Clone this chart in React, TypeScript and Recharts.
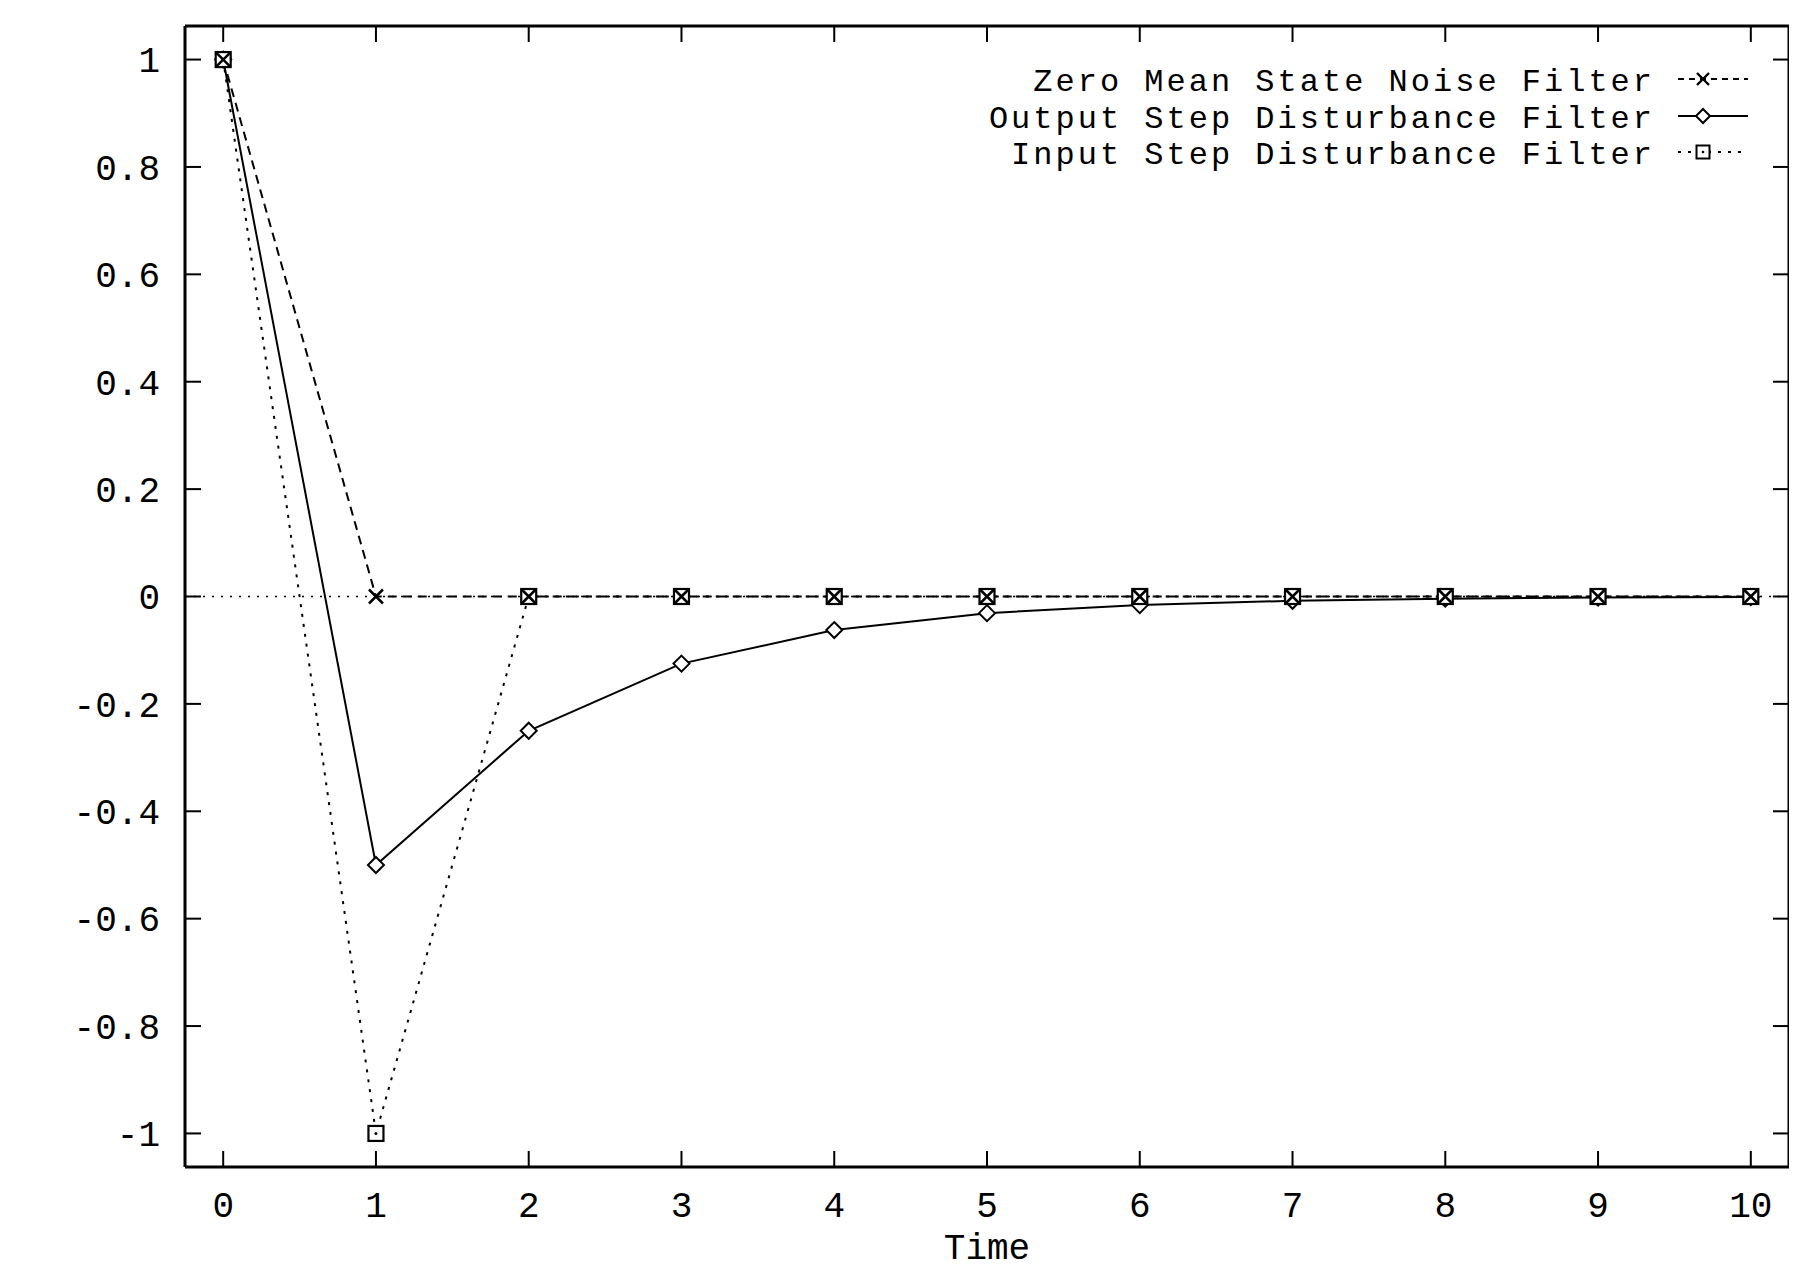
import React from 'react';
import { LineChart, Line, XAxis, YAxis, ReferenceLine, Legend } from 'recharts';

// sample index (x axis)
const time = [0, 1, 2, 3, 4, 5, 6, 7, 8, 9, 10];

// filter responses
const zeroMeanState = [1, 0, 0, 0, 0, 0, 0, 0, 0, 0, 0];
const outputStep = [1, -0.5, -0.25, -0.125, -0.0625, -0.031, -0.016, -0.008, -0.004, -0.002, -0.001];
const inputStep = [1, -1, 0, 0, 0, 0, 0, 0, 0, 0, 0];

const xTicks = [0, 1, 2, 3, 4, 5, 6, 7, 8, 9, 10];
const yTicks = [-1, -0.8, -0.6, -0.4, -0.2, 0, 0.2, 0.4, 0.6, 0.8, 1];

const seriesNames = [
  'Zero Mean State Noise Filter',
  'Output Step Disturbance Filter',
  'Input Step Disturbance Filter',
];

const data = time.map((t, i) => ({
  time: t,
  zero: zeroMeanState[i],
  output: outputStep[i],
  input: inputStep[i],
}));

const FONT = '"Liberation Mono", "DejaVu Sans Mono", monospace';
const INK = '#000';
const W = 1789;
const H = 1273;

const crossPath = (cx: number, cy: number, r = 7) =>
  `M${cx - r},${cy - r}L${cx + r},${cy + r}M${cx - r},${cy + r}L${cx + r},${cy - r}`;

const CrossDot = (props: any) => {
  const { cx, cy, index } = props;
  if (cx == null || cy == null) return <g key={`x-${index}`} />;
  return <path key={`x-${index}`} d={crossPath(cx, cy)} stroke={INK} strokeWidth={2.5} fill="none" />;
};

const DiamondDot = (props: any) => {
  const { cx, cy, index } = props;
  if (cx == null || cy == null) return <g key={`d-${index}`} />;
  const r = 8;
  return (
    <polygon
      key={`d-${index}`}
      points={`${cx},${cy - r} ${cx + r},${cy} ${cx},${cy + r} ${cx - r},${cy}`}
      stroke={INK}
      strokeWidth={2}
      fill="#fff"
    />
  );
};

const SquareDot = (props: any) => {
  const { cx, cy, index } = props;
  if (cx == null || cy == null) return <g key={`s-${index}`} />;
  const r = 7.5;
  return (
    <g key={`s-${index}`}>
      <rect x={cx - r} y={cy - r} width={2 * r} height={2 * r} stroke={INK} strokeWidth={2.2} fill="#fff" />
      <circle cx={cx} cy={cy} r={1.5} fill={INK} />
    </g>
  );
};

const legendSamples = [
  { dash: '6 5', mark: 'cross' },
  { dash: undefined, mark: 'diamond' },
  { dash: '3 7', mark: 'square' },
];

const renderLegend = () => (
  <div style={{ position: 'relative', width: W, height: 170 }}>
    {seriesNames.map((name, i) => {
      const top = 53 + i * 36.5;
      const s = legendSamples[i];
      return (
        <div key={name} style={{ position: 'absolute', top, left: 0, width: W, height: 36 }}>
          <div
            style={{
              position: 'absolute',
              right: W - 1647,
              top: 6,
              height: 32,
              fontFamily: FONT,
              fontSize: 32,
              letterSpacing: 3,
              lineHeight: '32px',
              whiteSpace: 'pre',
              color: INK,
            }}
          >
            {name}
          </div>
          <svg style={{ position: 'absolute', left: 1668, top: 0 }} width={76} height={36}>
            <line x1={2} y1={18} x2={72} y2={18} stroke={INK} strokeWidth={2} strokeDasharray={s.dash} />
            {s.mark === 'cross' && <path d={crossPath(27, 18, 6)} stroke={INK} strokeWidth={2.4} fill="none" />}
            {s.mark === 'diamond' && (
              <polygon points="27,11 34,18 27,25 20,18" stroke={INK} strokeWidth={2} fill="#fff" />
            )}
            {s.mark === 'square' && (
              <g>
                <rect x={20.5} y={11.5} width={13} height={13} stroke={INK} strokeWidth={2} fill="#fff" />
                <circle cx={27} cy={18} r={1.3} fill={INK} />
              </g>
            )}
          </svg>
        </div>
      );
    })}
  </div>
);

const tickStyle = { fontFamily: FONT, fontSize: 36, fill: INK };
const axisLine = { stroke: INK, strokeWidth: 3 };
const tickLine = { stroke: INK, strokeWidth: 2 };
const xDomain: [number, number] = [-0.25, 10.25];
const yDomain: [number, number] = [-1.0625, 1.0625];

const App: React.FC = () => {
  return (
    <div style={{ width: W, height: H, background: '#fff' }}>
      <LineChart
        width={W}
        height={H}
        data={data}
        margin={{ top: 17, right: 7, left: 0, bottom: 0 }}
      >
        <XAxis
          dataKey="time"
          type="number"
          domain={xDomain}
          ticks={xTicks}
          allowDataOverflow
          height={114}
          tickSize={-16}
          tickMargin={40}
          axisLine={axisLine}
          tickLine={tickLine}
          tick={tickStyle}
          label={{ value: 'Time', position: 'insideBottom', offset: 22, style: { fontFamily: FONT, fontSize: 36, fill: INK } }}
        />
        <XAxis
          xAxisId="top"
          orientation="top"
          dataKey="time"
          type="number"
          domain={xDomain}
          ticks={xTicks}
          allowDataOverflow
          height={1}
          tickSize={-16}
          tickFormatter={() => ''}
          axisLine={axisLine}
          tickLine={tickLine}
        />
        <YAxis
          type="number"
          domain={yDomain}
          ticks={yTicks}
          allowDataOverflow
          width={177}
          tickSize={-16}
          tickMargin={41}
          axisLine={axisLine}
          tickLine={tickLine}
          tick={tickStyle}
          tickFormatter={(v: number) => String(v)}
        />
        <YAxis
          yAxisId="right"
          orientation="right"
          type="number"
          domain={yDomain}
          ticks={yTicks}
          allowDataOverflow
          width={1}
          tickSize={-16}
          tickFormatter={() => ''}
          axisLine={axisLine}
          tickLine={tickLine}
        />
        <ReferenceLine y={0} stroke={INK} strokeWidth={1.5} strokeDasharray="2 7" />
        <Legend verticalAlign="middle" layout="horizontal" content={renderLegend} wrapperStyle={{ top: 0, left: 0, width: W, height: 170 }} />
        <Line
          dataKey="output"
          name={seriesNames[1]}
          stroke={INK}
          strokeWidth={2}
          dot={DiamondDot}
          isAnimationActive={false}
        />
        <Line
          dataKey="input"
          name={seriesNames[2]}
          stroke={INK}
          strokeWidth={2}
          strokeDasharray="3 7"
          dot={SquareDot}
          isAnimationActive={false}
        />
        <Line
          dataKey="zero"
          name={seriesNames[0]}
          stroke={INK}
          strokeWidth={2}
          strokeDasharray="9 6"
          dot={CrossDot}
          isAnimationActive={false}
        />
      </LineChart>
    </div>
  );
};

export default App;
